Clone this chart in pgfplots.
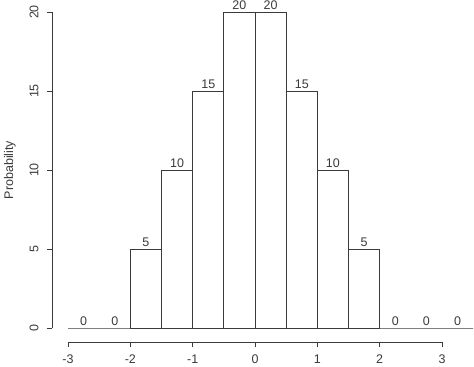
\documentclass[border=0pt]{standalone}
\usepackage{pgfplots}
\pgfplotsset{compat=1.18}
\usepackage{fontspec}
\setmainfont{Liberation Sans}
\definecolor{ln}{HTML}{3A3A3A}
\begin{document}
\begin{tikzpicture}
\begin{axis}[
  name=ax,
  scale only axis,
  width=374bp, height=316bp,
  xmin=-3, xmax=3, ymin=0, ymax=20,
  clip=false,
  axis lines*=left,
  axis x line shift=14bp,
  axis y line shift=16bp,
  axis line style={ln, line width=0.9bp},
  tick style={ln, line width=0.9bp},
  tick align=outside,
  major tick length=5bp,
  xtick={-3,-2,-1,0,1,2,3},
  ytick={0,5,10,15,20},
  font=\fontsize{12.5bp}{14bp}\selectfont,
  /pgf/number format/assume math mode=true,
  xticklabel style={text=ln, yshift=-4.5bp},
  yticklabel style={text=ln, rotate=90, anchor=south, yshift=5bp},
  ylabel={Probability},
  ylabel style={text=ln, at={(axis description cs:0,0.5)}, anchor=center, yshift=58bp},
  ybar, bar width=0.5,
  nodes near coords,
  every node near coord/.append style={text=ln, font=\fontsize{12.5bp}{14bp}\selectfont, inner sep=2bp},
]
\addplot[draw=ln, fill=white, line width=0.9bp] coordinates {
(-2.75,0) (-2.25,0) (-1.75,5) (-1.25,10) (-0.75,15) (-0.25,20)
(0.25,20) (0.75,15) (1.25,10) (1.75,5) (2.25,0) (2.75,0) (3.25,0)};
\end{axis}
\pgfresetboundingbox
\path[use as bounding box] ([shift={(-68bp,-38bp)}]ax.south west) rectangle ([shift={(32bp,12bp)}]ax.north east);
\end{tikzpicture}
\end{document}
